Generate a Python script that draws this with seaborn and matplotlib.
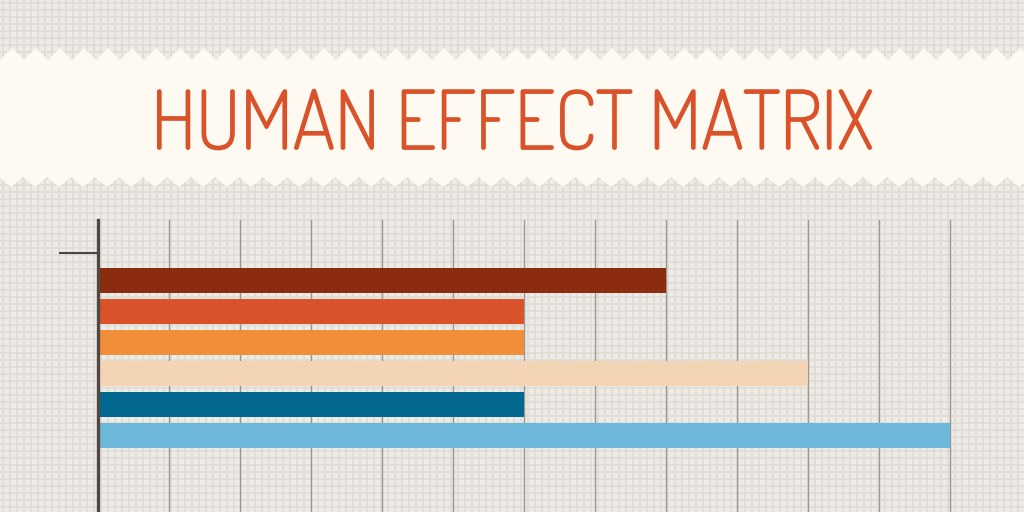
"""
Human Effect Matrix - horizontal bar chart on a paper-grid background
"""
import numpy as np
import pandas as pd
import matplotlib
matplotlib.use("Agg")
import matplotlib.pyplot as plt
import matplotlib.patheffects as pe
from matplotlib.patches import Polygon
import seaborn as sns

sns.set_style("white")

# ---------------------------------------------------------------
# Data
# ---------------------------------------------------------------
categories = ["A", "B", "C", "D", "E", "F"]
values = [8, 6, 6, 10, 6, 12]
colors = ["#8B2B10", "#D9522A", "#F28D38", "#F3D4B4", "#03688F", "#6DB7DB"]
title = "HUMAN EFFECT MATRIX"

df = pd.DataFrame({"category": categories, "value": values})

# ---------------------------------------------------------------
# Figure + background decoration (pixel coordinates)
# ---------------------------------------------------------------
W, H = 1024, 512
fig = plt.figure(figsize=(W / 100, H / 100), dpi=100)
fig.patch.set_facecolor("#EDEBE6")

bg = fig.add_axes([0, 0, 1, 1], zorder=0)
bg.set_xlim(0, W)
bg.set_ylim(H, 0)
bg.axis("off")

# paper grid
step = 7
bg.vlines(np.arange(3, W, step), 0, H, color="#DFDCD6", lw=1.2)
bg.hlines(np.arange(3, H, step), 0, W, color="#DFDCD6", lw=1.2)

# zig-zag banner
period = 24
xs = np.arange(-period, W + 2 * period, period)
top = []
for x in xs:
    top += [(x, 60), (x + 12, 48)]
bottom = []
for x in xs[::-1]:
    bottom += [(x + 23, 177), (x + 11, 187)]
banner = Polygon(top + bottom, closed=True, facecolor="#FEFAF1", edgecolor="none", zorder=2)
bg.add_patch(banner)

bg.text(W / 2, 127, title, ha="center", va="center", color="#D9522A",
        fontsize=58, fontweight=500,
        family=["Dosis", "Liberation Sans Narrow", "DejaVu Sans"], zorder=3,
        path_effects=[pe.withStroke(linewidth=1.3, foreground="#D9522A")])

# ---------------------------------------------------------------
# Bar chart
# ---------------------------------------------------------------
left, right, top_px = 98, 950, 220
ax = fig.add_axes([left / W, 0, (right - left) / W, (H - top_px) / H], zorder=1)
ax.patch.set_alpha(0)

sns.barplot(data=df, x="value", y="category", hue="category", palette=colors,
            orient="h", width=0.8, linewidth=0, saturation=1, legend=False, ax=ax)

ax.set_xlim(0, 12)
ax.set_ylim(7.47, -1.95)
ax.set_xticks(np.arange(0, 13, 1))
ax.set_xticklabels([])
ax.set_yticks([-0.89])
ax.set_yticklabels([""])
ax.set_xlabel("")
ax.set_ylabel("")
ax.tick_params(axis="x", length=0)
ax.tick_params(axis="y", left=True, length=28, width=1.5, color="#4E4541", direction="out")
ax.grid(axis="x", color="#9C9794", lw=1)
for gl in ax.get_xgridlines():
    gl.set_clip_on(False)
ax.set_axisbelow(True)

for side in ["top", "right", "bottom"]:
    ax.spines[side].set_visible(False)
ax.spines["left"].set_color("#514844")
ax.spines["left"].set_linewidth(2.4)

fig.savefig("out.png", dpi=100, facecolor=fig.get_facecolor())
plt.close()
